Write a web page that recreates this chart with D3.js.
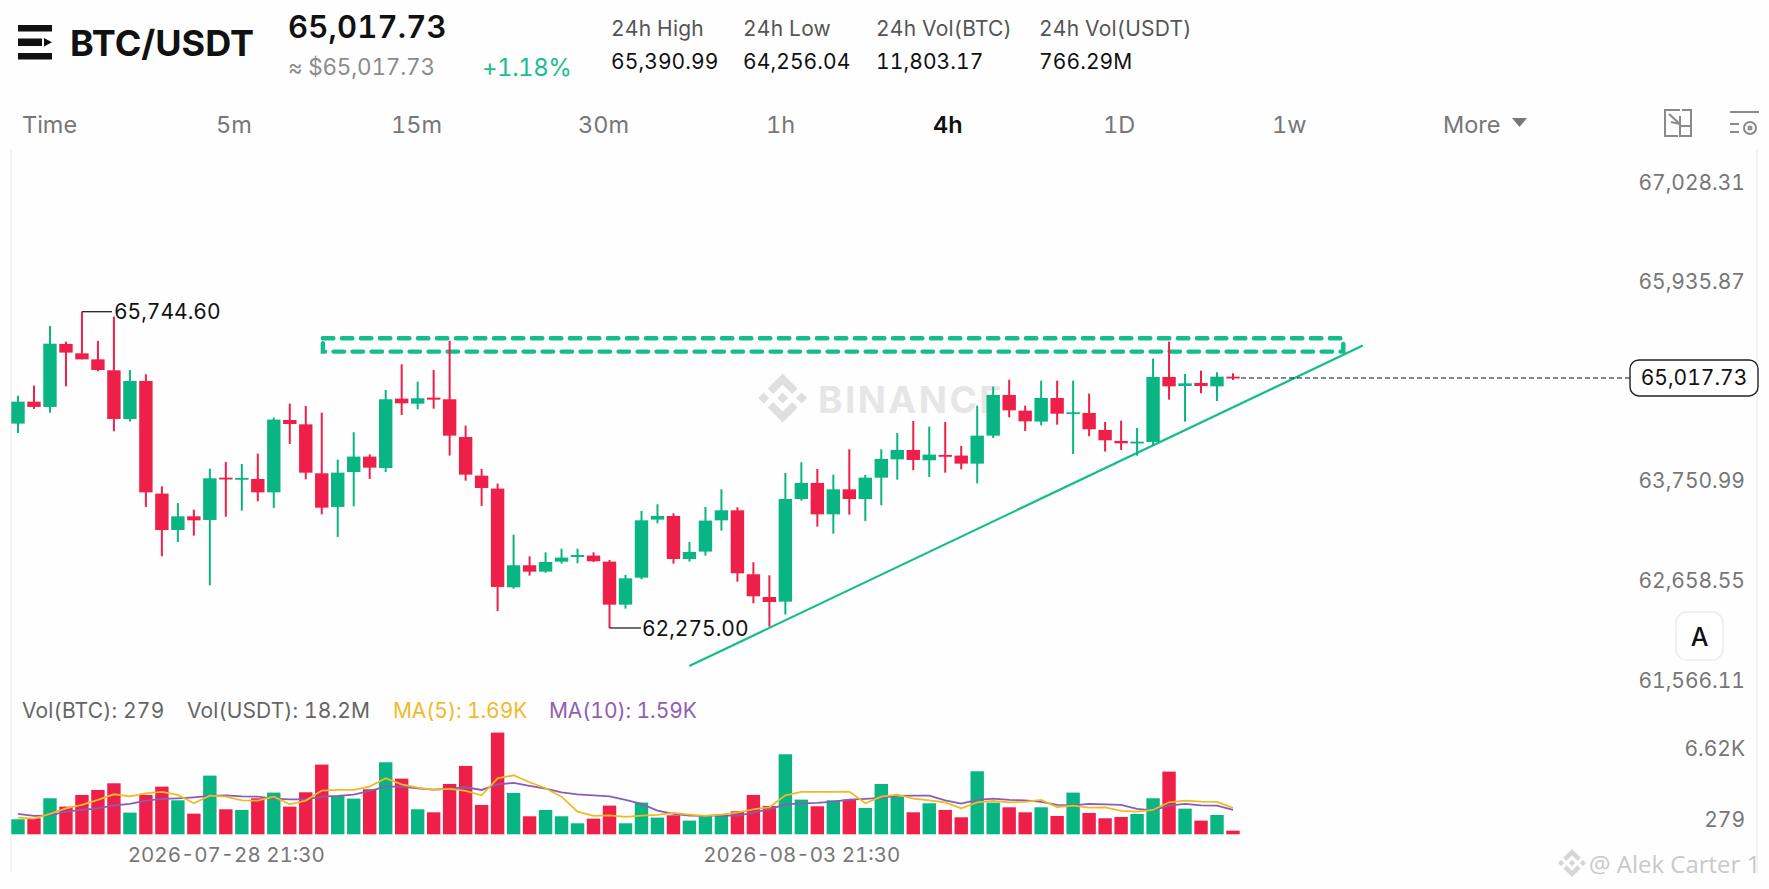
<!DOCTYPE html>
<html lang="en">
<head>
<meta charset="UTF-8">
<title>BTC/USDT 4h</title>
<script src="https://d3js.org/d3.v7.min.js"></script>
<style>
    html, body { margin: 0; padding: 0; background: #fefefe; overflow: hidden; }
    svg { display: block; }
    text { font-family: Inter, "Noto Sans", sans-serif; font-feature-settings: "tnum"; }
    .axis path, .axis line { display: none; }
</style>
</head>
<body>
<svg id="chart" width="1769" height="889"></svg>
<script>
// candles, oldest first
const opens = [64517,64758,64700,65391,65288,65222,65102,64568,64985,63749,63350,63500,63460,63924,63906,63910,63763,64557,64509,63972,63603,63986,64155,64030,
    64791,64736,64802,64784,64370,63946,63804,62721,62963,62893,63003,63054,63069,63003,62531,62827,63464,63504,63032,63113,63456,63566,62864,62615,62564,63690,
    63866,63522,63796,63690,63924,64125,64228,64115,64173,64166,64078,64385,64831,64659,64539,64798,64626,64634,64447,64327,64301,64316,65029,64930,64963,64926,65032];
const highs = [64824,64934,65588,65416,65744.6,65424,65691,65105,65058,63829,63646,63573,64023,64096,64074,64188,64583,64736,64711,64637,64122,64422,64180,64886,
    65168,64977,65105,65427,64495,64019,63859,63299,63061,63105,63145,63145,63105,63021,62857,63559,63632,63533,63219,63603,63796,63599,62996,62853,63976,64093,
    64019,63957,64235,63954,64235,64414,64546,64484,64535,64272,64714,64923,64999,64714,64988,64988,64988,64846,64535,64550,64469,65230,65416,65062,65098,65080,65069];
const lows = [64414,64678,64637,64926,65222,65091,64433,64539,63603,63061,63219,63288,62743,63496,63562,63665,63592,64294,63906,63522,63274,63610,63910,63986,
    64612,64674,64681,64166,63891,63614,62462,62707,62849,62882,62981,62985,62999,62275,62487,62809,63423,62981,63003,63069,63343,62783,62546,62290,62422,63672,
    63387,63310,63519,63449,63621,63902,64005,63932,63979,64016,63862,64360,64586,64436,64498,64506,64184,64378,64210,64228,64166,64272,64780,64539,64850,64765,64996];
const closes = [64758,64700,65394,65296,65222,65105,64568,64985,63763,63350,63500,63456,63917,63910,63921,63763,64561,64513,63979,63595,63979,64155,64034,64784,
    64740,64795,64780,64385,63957,63811,62725,62963,62893,62999,63047,63076,63007,62531,62820,63456,63504,63032,63109,63453,63566,62875,62623,62560,63690,63866,
    63522,63796,63690,63924,64129,64228,64118,64177,64158,64078,64385,64831,64663,64542,64798,64626,64641,64455,64334,64301,64319,65029,64926,64959,64930,65032,65017.73];

const volumes = [1157,1234,2776,2133,3033,3418,3932,1671,3033,3675,2621,1593,4523,1928,1876,2776,3213,2133,3238,5371,2956,2750,3470,5551,
    4292,1928,1696,3881,5269,2262,7839,3187,1388,1876,1388,848,1208,2210,848,2442,1285,1465,1054,1491,1568,1773,3033,2185,6168,2673,
    2159,2621,2673,2030,3881,2878,1696,2390,1876,1311,4857,2442,2082,1696,2082,1414,3213,1645,1234,1336,1568,2776,4832,1979,1054,1491,279];
const ma5 = [1285,1208,1568,2005,2262,2647,3084,2930,3161,3264,3033,2390,2981,2904,2621,2596,2904,2313,2596,3367,3418,3418,3675,4318,
    3855,3598,3418,3495,3341,3007,4318,4549,4009,3547,2904,1748,1414,1465,1336,1439,1491,1645,1516,1414,1516,1671,1928,2082,3007,3264,
    3264,3264,3290,2390,2904,3058,2750,2621,2467,2005,2467,2570,2467,2493,2647,2107,2210,2056,2082,1799,1748,1876,2467,2596,2519,2493,2030];
const ma10 = [1568,1414,1465,1748,1876,2005,2236,2339,2596,2724,2776,2853,2956,3007,2930,2904,2750,2699,2699,2904,2956,3058,3341,3675,
    3675,3547,3444,3521,3624,3418,3855,3958,3727,3521,3238,3084,3007,2930,2647,2339,1825,1568,1439,1414,1465,1439,1671,1928,2313,2390,
    2416,2519,2673,2724,2801,2956,2981,2981,2621,2364,2647,2750,2647,2621,2493,2262,2236,2339,2313,2262,1953,1850,2210,2339,2236,2210,1876];

const priceTicks = [67028.31, 65935.87, 63750.99, 62658.55, 61566.11];
const dateTicks = [13, 49];
const dateLabels = ["2026-07-28 21:30", "2026-08-03 21:30"];
const tabs = ["Time", "5m", "15m", "30m", "1h", "4h", "1D", "1w", "More"];
const tabX = [22, 216, 391, 578, 766, 933, 1103, 1272, 1443];
const stats = [["24h High", "65,390.99"], ["24h Low", "64,256.04"], ["24h Vol(BTC)", "11,803.17"], ["24h Vol(USDT)", "766.29M"]];
const statX = [611, 743, 876, 1039];

const lastPrice = 65017.73;
const resistance = { x0: 19.07, x1: 82.9, top: 65453, bottom: 65307 };
const trend = [[41.99, 61858], [84.12, 65373]];

const green = "#09b582", red = "#ee2049", lineGreen = "#14bd8c";
const grey = "#777", svg = d3.select("#chart");

const x = d3.scaleLinear().domain([0, 76]).range([18, 1233]);
const y = d3.scaleLinear().domain([61566.11, 67028.31]).range([692.6, 194.7]);
const yVol = d3.scaleLinear().domain([0, 6620]).range([834.3, 748.4]);

const candles = opens.map((o, i) => ({ i, o, h: highs[i], l: lows[i], c: closes[i], v: volumes[i] }));
const colorOf = d => d.c >= d.o ? green : red;

function label(txt, px, py, opt = {}) {
    return svg.append("text").text(txt).attr("x", px).attr("y", py)
        .attr("dominant-baseline", opt.base || "central")
        .attr("text-anchor", opt.anchor || "start")
        .attr("font-size", opt.size || 21)
        .attr("font-weight", opt.weight || 400)
        .attr("letter-spacing", opt.ls || 0)
        .attr("fill", opt.fill || grey);
}

// frame lines
svg.append("line").attr("x1", 11).attr("x2", 11).attr("y1", 150).attr("y2", 872).attr("stroke", "#efefef").attr("stroke-width", 1.5);
svg.append("line").attr("x1", 1757).attr("x2", 1757).attr("y1", 150).attr("y2", 873).attr("stroke", "#efefef").attr("stroke-width", 1.5);

// header
const binancePath = "M16.624 13.9202l2.7175 2.7154-7.353 7.353-7.353-7.352 2.7175-2.7164 4.6355 4.6595 4.6356-4.6595zm4.6366-4.6366L24 12l-2.7154 2.7164L18.5682 12l2.6924-2.7164zm-9.272.001l2.7163 2.6914-2.7164 2.7174v-.001L9.2721 12l2.7164-2.7154zm-9.2722-.001L5.4088 12l-2.6914 2.6924L0 12l2.7164-2.7164zM11.9885.0115l7.353 7.329-2.7174 2.7154-4.6356-4.6356-4.6355 4.6595-2.7174-2.7154 7.353-7.353z";
const menu = svg.append("g").attr("fill", "#111");
menu.append("rect").attr("x", 18).attr("y", 25).attr("width", 34).attr("height", 6.5);
menu.append("rect").attr("x", 18).attr("y", 38.5).attr("width", 24).attr("height", 7.5);
menu.append("path").attr("d", "M44 38 L52 42.2 L44 46.5 Z");
menu.append("rect").attr("x", 18).attr("y", 53).attr("width", 34).attr("height", 6.5);

label("BTC/USDT", 70, 43, { size: 36, weight: 700, fill: "#111" });
label("65,017.73", 288, 26, { size: 31, weight: 600, fill: "#111", ls: 0.2 });
label("≈ $65,017.73", 288, 66, { size: 22.5, fill: "#8c8c8c", ls: -0.2 });
label("+1.18%", 482, 67, { size: 24, fill: "#19c08e", ls: -0.5 });
stats.forEach((s, i) => {
    label(s[0], statX[i], 28, { size: 21, fill: "#555", ls: 0.2 });
    label(s[1], statX[i], 61, { size: 21, fill: "#111", ls: 0.1 });
});
tabs.forEach((t, i) => label(t, tabX[i], 124, { size: 23.5, fill: t === "4h" ? "#111" : grey, weight: t === "4h" ? 600 : 400 }));
svg.append("path").attr("d", "M1512 118 L1527 118 L1519.5 127 Z").attr("fill", grey);

// top right icons
const icons = svg.append("g").attr("fill", "none").attr("stroke", "#8a8a8a").attr("stroke-width", 2);
icons.append("path").attr("d", "M1680 110 L1665 110 L1665 136 L1678 136 M1682 110 L1691 110 L1691 136 L1680 136 L1680 126 L1691 126 M1669 114 L1680 124 M1671 122 L1680 124 L1680 116");
icons.append("path").attr("d", "M1730 112 L1759 112 M1730 124 L1739 124 M1730 132 L1739 132");
icons.append("circle").attr("cx", 1750).attr("cy", 128).attr("r", 6);
icons.append("circle").attr("cx", 1750).attr("cy", 128).attr("r", 1.5);

// watermark, sits under the candles
svg.append("path").attr("d", binancePath).attr("fill", "#dfdfdf")
    .attr("transform", "translate(758.2,373.5) scale(2.04)");
label("BINANCE", 818, 399, { size: 37, weight: 700, fill: "#e6e6e6", ls: 2.5 });

// resistance box
svg.append("rect")
    .attr("x", x(resistance.x0)).attr("width", x(resistance.x1) - x(resistance.x0))
    .attr("y", y(resistance.top)).attr("height", y(resistance.bottom) - y(resistance.top))
    .attr("fill", "none").attr("stroke", lineGreen).attr("stroke-width", 4.4)
    .attr("stroke-linecap", "round").attr("stroke-dasharray", "10.5,8.5");

// trend line
svg.append("path").datum(trend)
    .attr("d", d3.line().x(d => x(d[0])).y(d => y(d[1])))
    .attr("stroke", lineGreen).attr("stroke-width", 2.2).attr("fill", "none");

// candles
const candleG = svg.append("g");
candleG.selectAll("line").data(candles).join("line")
    .attr("x1", d => x(d.i)).attr("x2", d => x(d.i))
    .attr("y1", d => y(d.h)).attr("y2", d => y(d.l))
    .attr("stroke", colorOf).attr("stroke-width", 2);
candleG.selectAll("rect").data(candles).join("rect")
    .attr("x", d => x(d.i) - 6.7).attr("width", 13.4)
    .attr("y", d => y(Math.max(d.o, d.c)))
    .attr("height", d => Math.max(1.8, Math.abs(y(d.o) - y(d.c))))
    .attr("fill", colorOf);

// high / low markers
svg.append("line").attr("x1", x(4)).attr("x2", 112).attr("y1", y(65744.6)).attr("y2", y(65744.6)).attr("stroke", "#111").attr("stroke-width", 1.2);
label("65,744.60", 114, y(65744.6), { size: 21, fill: "#111" });
svg.append("line").attr("x1", x(37)).attr("x2", 641).attr("y1", y(62275)).attr("y2", y(62275)).attr("stroke", "#111").attr("stroke-width", 1.2);
label("62,275.00", 642, y(62275) + 1, { size: 21, fill: "#111" });

// last price line and tag
svg.append("line").attr("x1", x(76.5)).attr("x2", 1630).attr("y1", y(lastPrice)).attr("y2", y(lastPrice))
    .attr("stroke", "#111").attr("stroke-width", 1).attr("stroke-dasharray", "5,3");
svg.append("rect").attr("x", 1630).attr("y", y(lastPrice) - 18).attr("width", 128).attr("height", 36).attr("rx", 9)
    .attr("fill", "#fff").attr("stroke", "#222").attr("stroke-width", 1.4);
label("65,017.73", 1694, y(lastPrice), { anchor: "middle", fill: "#111" });

// price axis, labels sit above their levels
const priceAxis = svg.append("g").attr("class", "axis").attr("transform", "translate(1745,0)")
    .call(d3.axisRight(y).tickValues(priceTicks).tickSize(0).tickFormat(d3.format(",.2f")));
priceAxis.selectAll("text").attr("x", 0).attr("dy", "-13px").attr("dominant-baseline", "central")
    .attr("text-anchor", "end").attr("font-size", 21).attr("fill", grey)
    .style("font-family", "Inter");

// the A button
svg.append("rect").attr("x", 1676).attr("y", 612).attr("width", 47).attr("height", 48).attr("rx", 11)
    .attr("fill", "#fff").attr("stroke", "#ececec").attr("stroke-width", 1.5);
label("A", 1699.5, 637, { anchor: "middle", size: 25, weight: 500, fill: "#111" });

// volume panel
label("Vol(BTC): 279", 22, 710, { size: 21, fill: "#666", ls: 0.15 });
label("Vol(USDT): 18.2M", 187, 710, { size: 21, fill: "#666", ls: 0.1 });
label("MA(5): 1.69K", 393, 710, { size: 21, fill: "#eebb2c", ls: -0.1 });
label("MA(10): 1.59K", 549, 710, { size: 21, fill: "#8e5fb4", ls: -0.1 });

svg.append("g").selectAll("rect").data(candles).join("rect")
    .attr("x", d => x(d.i) - 6.7).attr("width", 13.4)
    .attr("y", d => yVol(d.v)).attr("height", d => yVol(0) - yVol(d.v))
    .attr("fill", colorOf);

const maLine = d3.line().x((d, i) => x(i)).y(d => yVol(d));
svg.append("path").datum(ma10).attr("d", maLine).attr("fill", "none").attr("stroke", "#8a5db4").attr("stroke-width", 1.8);
svg.append("path").datum(ma5).attr("d", maLine).attr("fill", "none").attr("stroke", "#f0bb22").attr("stroke-width", 1.8);

label("6.62K", 1745, yVol(6620), { anchor: "end", fill: grey });
label("279", 1745, yVol(279) - 11, { anchor: "end", fill: grey });

// date axis
const dateAxis = svg.append("g").attr("class", "axis").attr("transform", "translate(0,854)")
    .call(d3.axisBottom(x).tickValues(dateTicks).tickSize(0).tickFormat((d, i) => dateLabels[i]));
dateAxis.selectAll("text").attr("y", 0).attr("dy", 0).attr("dominant-baseline", "central")
    .attr("font-size", 20.5).attr("fill", grey).style("font-family", "Inter");

// author mark in the corner
svg.append("path").attr("d", binancePath).attr("fill", "#d6d6d6")
    .attr("transform", "translate(1558,849) scale(1.17)");
svg.append("clipPath").attr("id", "clipMark").append("rect").attr("x", 1580).attr("y", 840).attr("width", 177).attr("height", 49);
label("@ Alek Carter 1", 1589, 863, { size: 24, fill: "#c9c9c9" }).attr("clip-path", "url(#clipMark)").style("font-family", "'Open Sans'");
</script>
</body>
</html>
